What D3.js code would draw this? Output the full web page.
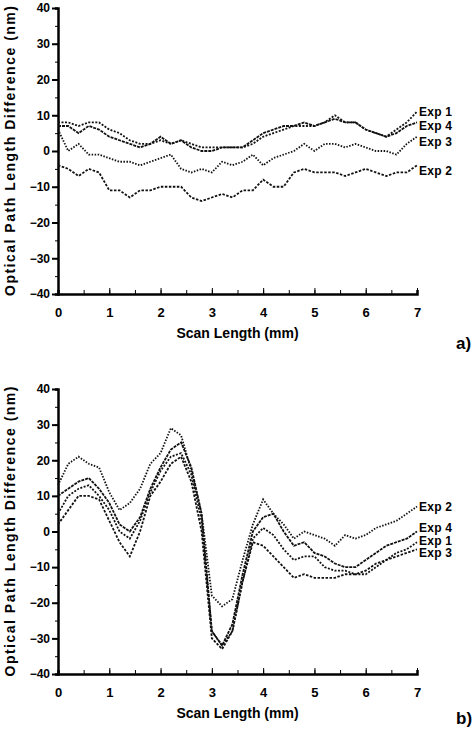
<!DOCTYPE html>
<html><head><meta charset="utf-8">
<script src="https://cdn.jsdelivr.net/npm/d3@7"></script>
<style>body{margin:0;background:#fff}text{font-family:"Liberation Sans",Arial,sans-serif;font-weight:bold}</style>
</head><body><svg id="c" width="474" height="733"></svg>
<script>
// x grid: 0 to 7 mm, step 0.2
const xs = d3.range(36).map(i => +(i * 0.2).toFixed(1));

// panel a
const aExp1 = [8,8,7,8,8,6,5,3,2,2,3,2,3,2,1,1,1,1,1,2,4,5,6,7,7,7,8,10,8,8,6,5,4,6,8,11];
const aExp4 = [7,7,5,7,6,4,3,2,1,2,4,2,3,1,0,0,1,1,1,3,5,6,7,7,8,7,8,9,8,8,6,5,4,5,7,8];
const aExp3 = [6,0,2,-1,-1,-2,-3,-3,-4,-3,-2,-1,-5,-6,-5,-6,-3,-4,-3,-1,-4,-2,-1,0,2,0,2,2,1,2,1,0,0,-1,2,4];
const aExp2 = [-4,-5,-7,-5,-6,-11,-11,-13,-11,-11,-10,-10,-10,-13,-14,-13,-12,-13,-11,-11,-8,-10,-10,-6,-5,-6,-6,-6,-7,-6,-5,-6,-7,-6,-6,-4];
// panel b
const bExp2 = [13,19,21,19,18,11,6,8,12,19,22,29,27,17,5,-18,-21,-19,-8,2,9,5,2,-2,0,-1,-2,-4,-1,-2,-1,1,2,3,5,7];
const bExp4 = [10,12,14,15,12,8,2,0,4,12,18,23,25,18,5,-28,-32,-26,-12,0,4,5,0,-4,-3,-6,-7,-9,-10,-10,-8,-6,-4,-3,-2,0];
const bExp1 = [5,10,12,13,10,6,0,-2,3,11,17,21,22,16,3,-28,-32,-28,-14,-2,1,-1,-5,-8,-7,-7,-10,-11,-11,-12,-12,-10,-8,-6,-5,-3];
const bExp3 = [2,6,10,10,9,3,-3,-7,0,10,14,19,21,14,0,-30,-33,-28,-14,-3,-4,-7,-10,-13,-12,-13,-13,-13,-12,-12,-11,-9,-8,-7,-6,-5];

const xTicks = [0,1,2,3,4,5,6,7];
const yTicks = [-40,-30,-20,-10,0,10,20,30,40];

const panels = [
  {top: 8, bottom: 294, tag: "a)", tagY: 349, series: [
    {name: "Exp 1", v: aExp1, dash: "2,1.5", ly: 11},
    {name: "Exp 4", v: aExp4, dash: "3,1", ly: 7},
    {name: "Exp 3", v: aExp3, dash: "1.5,1.5", ly: 2.5},
    {name: "Exp 2", v: aExp2, dash: "2.5,1.5", ly: -5.5}]},
  {top: 389, bottom: 674, tag: "b)", tagY: 724, series: [
    {name: "Exp 2", v: bExp2, dash: "1.5,1.5", ly: 7},
    {name: "Exp 4", v: bExp4, dash: "3,1", ly: 1},
    {name: "Exp 1", v: bExp1, dash: "2,1.5", ly: -2.5},
    {name: "Exp 3", v: bExp3, dash: "2.5,1.5", ly: -6}]}
];

const svg = d3.select("#c");
const x = d3.scaleLinear().domain([0, 7]).range([58, 417]);

panels.forEach(p => {
  const y = d3.scaleLinear().domain([-40, 40]).range([p.bottom, p.top]);
  const g = svg.append("g");

  g.append("g").attr("transform", `translate(0,${p.bottom})`)
    .call(d3.axisBottom(x).tickValues(d3.range(0, 7.01, 0.5)).tickSize(-4).tickFormat(""))
    .call(a => a.select(".domain").attr("stroke-width", 2.5));
  g.append("g").attr("transform", `translate(0,${p.bottom})`)
    .call(d3.axisBottom(x).tickValues(xTicks).tickSize(-6).tickPadding(14).tickFormat(d3.format("d")))
    .call(a => { a.select(".domain").remove(); a.selectAll("text").attr("font-size", 13).attr("fill", "#000"); });

  g.append("g").attr("transform", "translate(58,0)")
    .call(d3.axisLeft(y).tickValues(d3.range(-40, 41, 5)).tickSize(3).tickFormat(""))
    .call(a => a.select(".domain").attr("stroke-width", 2.5));
  g.append("g").attr("transform", "translate(58,0)")
    .call(d3.axisLeft(y).tickValues(yTicks).tickSize(6).tickPadding(2).tickFormat(d3.format("d")))
    .call(a => { a.select(".domain").remove(); a.selectAll("line").attr("stroke-width", 2); a.selectAll("text").attr("font-size", 12).attr("fill", "#000"); });

  const line = d3.line().x((d, i) => x(xs[i])).y(d => y(d)).curve(d3.curveLinear);
  p.series.forEach(s => {
    g.append("path").attr("d", line(s.v)).attr("fill", "none")
      .attr("stroke", "#111").attr("stroke-width", 1.8).attr("stroke-dasharray", s.dash);
    g.append("text").attr("x", 419).attr("y", y(s.ly)).attr("dy", "0.35em")
      .attr("font-size", 12).attr("textLength", 33).text(s.name);
  });

  g.append("text").attr("transform", `translate(15,${(p.top + p.bottom) / 2}) rotate(-90)`)
    .attr("text-anchor", "middle").attr("font-size", 14).attr("textLength", 290).text("Optical Path Length Difference (nm)");
  g.append("text").attr("x", x(3.5)).attr("y", p.bottom + 44).attr("text-anchor", "middle")
    .attr("font-size", 14).text("Scan Length (mm)");
  g.append("text").attr("x", 456).attr("y", p.tagY).attr("font-size", 17).attr("font-weight", "normal").text(p.tag);
});
</script></body></html>
